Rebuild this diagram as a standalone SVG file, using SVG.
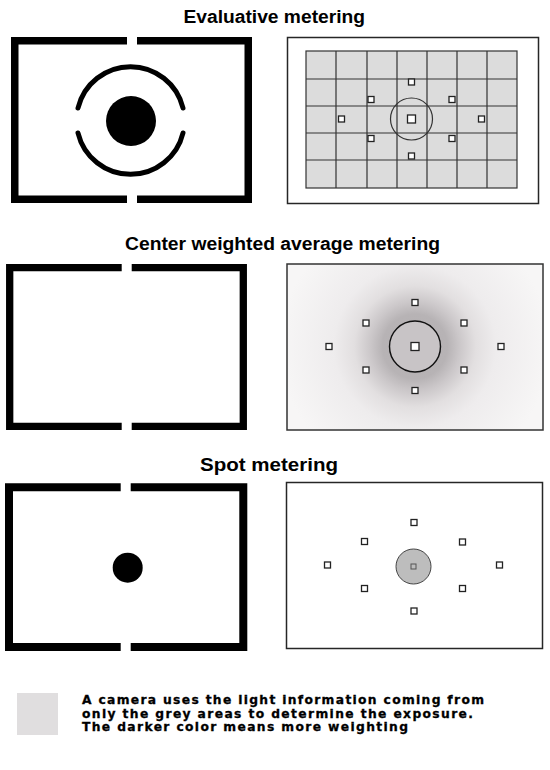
<svg xmlns="http://www.w3.org/2000/svg" width="550" height="770" viewBox="0 0 550 770">
<style>
.title{font-family:"Liberation Sans",Arial,sans-serif;font-weight:bold;fill:#000}
.frame{fill:none;stroke:#000;stroke-linejoin:miter;stroke-linecap:butt}
.vf{fill:#fff;stroke:#262626;stroke-width:1.5}
.sq{fill:#fff;stroke:#222;stroke-width:1.3}
.grid{fill:none;stroke:#333;stroke-width:1.2}
.legend{font-family:"DejaVu Sans","Liberation Sans",sans-serif;font-weight:bold;font-size:12.3px;fill:#000;stroke:#000;stroke-width:0.3}
</style>
<defs>
<radialGradient id="cw" gradientUnits="userSpaceOnUse" cx="415" cy="346.5" r="135">
<stop offset="0" stop-color="#b4b0b2"/>
<stop offset="0.24" stop-color="#b7b3b5"/>
<stop offset="0.33" stop-color="#cbc7c9"/>
<stop offset="0.45" stop-color="#e2dfe0"/>
<stop offset="0.6" stop-color="#eeeced"/>
<stop offset="1" stop-color="#f7f6f6"/>
</radialGradient>
</defs>
<rect width="550" height="770" fill="#fff"/>

<text class="title" x="183.5" y="22.5" font-size="17.5" textLength="181.5" lengthAdjust="spacingAndGlyphs">Evaluative metering</text>
<text class="title" x="125" y="249.5" font-size="18" textLength="315" lengthAdjust="spacingAndGlyphs">Center weighted average metering</text>
<text class="title" x="200" y="470.5" font-size="18" textLength="138" lengthAdjust="spacingAndGlyphs">Spot metering</text>

<g id="evaluative-symbol">
<path class="frame" stroke-width="7.5" d="M127,40.75 H14.75 V199.25 H127 M137,40.75 H248.25 V199.25 H137"/>
<path d="M78,108 A54,54 0 0 1 183,108 M78,133 A54,54 0 0 0 183,133" fill="none" stroke="#000" stroke-width="5" stroke-linecap="round"/>
<circle cx="131" cy="121" r="25" fill="#000"/>
</g>

<g id="evaluative-viewfinder">
<rect class="vf" x="287.5" y="37.5" width="251" height="166"/>
<rect x="306" y="51" width="211" height="137" fill="#dcdcdc" stroke="#333" stroke-width="1.2"/>
<path class="grid" d="M336,51V188 M367,51V188 M397,51V188 M427,51V188 M457,51V188 M487,51V188 M306,79H517 M306,106H517 M306,133H517 M306,160H517"/>
<circle cx="411.5" cy="119" r="21" fill="none" stroke="#333" stroke-width="1.2"/>
<rect class="sq" x="407.5" y="115" width="8" height="8"/>
<rect class="sq" x="408.5" y="79" width="6" height="6"/>
<rect class="sq" x="408.5" y="153" width="6" height="6"/>
<rect class="sq" x="368" y="96.5" width="6" height="6"/>
<rect class="sq" x="449" y="96.5" width="6" height="6"/>
<rect class="sq" x="368" y="135.5" width="6" height="6"/>
<rect class="sq" x="449" y="135.5" width="6" height="6"/>
<rect class="sq" x="338.5" y="116" width="6" height="6"/>
<rect class="sq" x="478.5" y="116" width="6" height="6"/>
</g>

<g id="center-weighted-symbol">
<path class="frame" stroke-width="7.3" d="M121.7,267.7 H9.7 V426.3 H121.7 M131.7,267.7 H243.3 V426.3 H131.7"/>
</g>

<g id="center-weighted-viewfinder">
<rect x="287" y="264" width="256" height="166" fill="url(#cw)" stroke="#333" stroke-width="1.5"/>
<circle cx="415" cy="346.5" r="25.5" fill="#c8c4c6" stroke="#111" stroke-width="1.4"/>
<rect class="sq" x="411" y="342.5" width="8" height="8" fill="none"/>
<rect class="sq" x="412" y="299.5" width="6" height="6"/>
<rect class="sq" x="412" y="387.5" width="6" height="6"/>
<rect class="sq" x="363" y="320" width="6" height="6"/>
<rect class="sq" x="461" y="320" width="6" height="6"/>
<rect class="sq" x="363" y="367" width="6" height="6"/>
<rect class="sq" x="461" y="367" width="6" height="6"/>
<rect class="sq" x="326" y="343.5" width="6" height="6"/>
<rect class="sq" x="498" y="343.5" width="6" height="6"/>
</g>

<g id="spot-symbol">
<path class="frame" stroke-width="8" d="M120.7,487.3 H9 V647 H120.7 M130.7,487.3 H243.3 V647 H130.7"/>
<circle cx="127.7" cy="567.7" r="15" fill="#000"/>
</g>

<g id="spot-viewfinder">
<rect class="vf" x="286.5" y="482.5" width="256" height="166"/>
<circle cx="413.5" cy="566.5" r="17.5" fill="#bdbdbd" stroke="#444" stroke-width="1"/>
<rect x="411" y="564" width="5" height="5" fill="none" stroke="#555" stroke-width="1"/>
<rect class="sq" x="411" y="519.5" width="6" height="6"/>
<rect class="sq" x="411" y="608" width="6" height="6"/>
<rect class="sq" x="361.5" y="538.5" width="6" height="6"/>
<rect class="sq" x="459.5" y="539" width="6" height="6"/>
<rect class="sq" x="361.5" y="585.5" width="6" height="6"/>
<rect class="sq" x="459.5" y="585.5" width="6" height="6"/>
<rect class="sq" x="324.5" y="562" width="6" height="6"/>
<rect class="sq" x="496.5" y="562" width="6" height="6"/>
</g>

<g id="legend">
<rect x="17" y="693" width="41" height="42" fill="#e0dedf"/>
<text class="legend" x="82" y="704" textLength="402" lengthAdjust="spacing">A camera uses the light information coming from</text>
<text class="legend" x="82" y="717.5" textLength="391" lengthAdjust="spacing">only the grey areas to determine the exposure.</text>
<text class="legend" x="82" y="731" textLength="326" lengthAdjust="spacing">The darker color means more weighting</text>
</g>
</svg>
